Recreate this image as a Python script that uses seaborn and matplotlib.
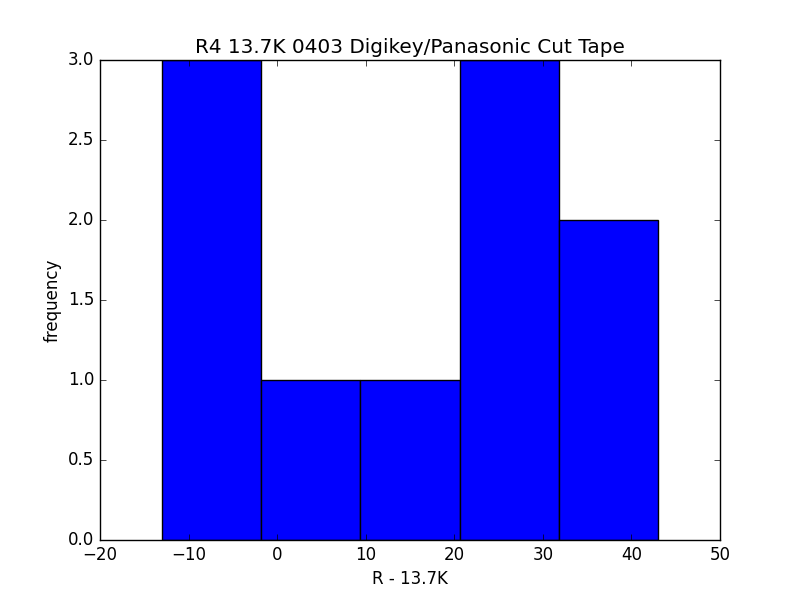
import matplotlib
matplotlib.use("Agg")
import matplotlib.pyplot as plt
import seaborn as sns

# histogram bins
bin_edges = [-13.0, -1.8, 9.4, 20.6, 31.8, 43.0]
counts = [3, 1, 1, 3, 2]
centers = [(a + b) / 2 for a, b in zip(bin_edges[:-1], bin_edges[1:])]

plt.style.use("classic")
fig, ax = plt.subplots(figsize=(8, 6), dpi=100)
sns.histplot(x=centers, weights=counts, bins=bin_edges, ax=ax,
             color="#0000ff", alpha=1.0, edgecolor="black", linewidth=1)
ax.set_xlim(-20, 50)
ax.set_ylim(0, 3)
ax.set_title("R4 13.7K 0403 Digikey/Panasonic Cut Tape")
ax.set_xlabel("R - 13.7K")
ax.set_ylabel("frequency")
ax.tick_params(direction="in", top=True, right=True)
fig.savefig("out.png", dpi=100, facecolor="white")
